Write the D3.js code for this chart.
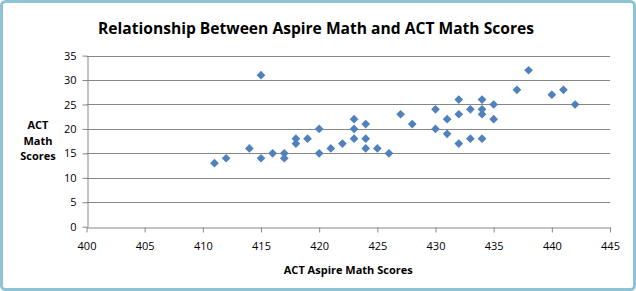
<!DOCTYPE html>
<html>
<head>
<meta charset="utf-8">
<script src="https://d3js.org/d3.v7.min.js"></script>
<style>
body { margin: 0; background: #fff; }
text { font-family: "Open Sans", "DejaVu Sans", sans-serif; fill: #000; }
</style>
</head>
<body>
<div class="chart"></div>
<script>
var WIDTH = 636;
var HEIGHT = 291;

var LEFT = 86.5;
var RIGHT = 610;
var TOP = 55.6;
var BOTTOM = 226.7;

// ACT Aspire math score (x) vs ACT math score (y)
var aspireScores = [411, 412, 414, 415, 415, 416, 417, 417, 418, 418, 419, 420, 420, 421, 422,
    423, 423, 423, 424, 424, 424, 425, 426, 427, 428, 430, 430, 431, 431, 432, 432, 432,
    433, 433, 434, 434, 434, 434, 435, 435, 437, 438, 440, 441, 442];
var actScores = [13, 14, 16, 31, 14, 15, 15, 14, 17, 18, 18, 20, 15, 16, 17,
    22, 20, 18, 21, 18, 16, 16, 15, 23, 21, 24, 20, 22, 19, 26, 23, 17,
    24, 18, 26, 24, 23, 18, 25, 22, 28, 32, 27, 28, 25];

var xTicks = [400, 405, 410, 415, 420, 425, 430, 435, 440, 445];
var yTicks = [0, 5, 10, 15, 20, 25, 30, 35];

var points = aspireScores.map(function(x, i) {
    return {x: x, y: actScores[i]};
});

var svg = d3.select(".chart")
    .append("svg")
    .attr("width", WIDTH)
    .attr("height", HEIGHT);

// outer frame
svg.append("rect")
    .attr("x", 1.5)
    .attr("y", 1.5)
    .attr("width", WIDTH - 3)
    .attr("height", HEIGHT - 3)
    .attr("rx", 4)
    .attr("fill", "#fff")
    .attr("stroke", "#8fc2d5")
    .attr("stroke-width", 3);

var x = d3.scaleLinear().domain([400, 445]).range([LEFT, RIGHT]);
var y = d3.scaleLinear().domain([0, 35]).range([BOTTOM, TOP]);

// gridlines
svg.append("g")
    .selectAll("line")
    .data(yTicks.slice(1))
    .enter().append("line")
    .attr("x1", LEFT)
    .attr("x2", RIGHT)
    .attr("y1", function(d) { return Math.round(y(d)) + 0.5; })
    .attr("y2", function(d) { return Math.round(y(d)) + 0.5; })
    .attr("stroke", "#868686")
    .attr("stroke-width", 1);

var xAxis = svg.append("g")
    .attr("transform", "translate(0," + (Math.round(BOTTOM) + 0.5) + ")")
    .call(d3.axisBottom(x).tickValues(xTicks).tickSize(5).tickPadding(8).tickSizeOuter(0));

var yAxis = svg.append("g")
    .attr("transform", "translate(" + (Math.round(LEFT) + 0.5) + ",0)")
    .call(d3.axisLeft(y).tickValues(yTicks).tickSize(5).tickPadding(6).tickSizeOuter(0));

[xAxis, yAxis].forEach(function(a) {
    a.select(".domain").attr("stroke", "#868686");
    a.selectAll(".tick line").attr("stroke", "#868686");
    a.selectAll(".tick text")
        .style("font-family", "'Open Sans', sans-serif")
        .style("font-size", "11px")
        .attr("fill", "#000");
});
xAxis.selectAll(".tick text").attr("dy", "0.85em");

// diamonds
var diamond = d3.symbol().type(d3.symbolSquare).size(38);
svg.append("g")
    .selectAll("path")
    .data(points)
    .enter().append("path")
    .attr("d", diamond)
    .attr("transform", function(d) {
        return "translate(" + x(d.x) + "," + y(d.y) + ") rotate(45)";
    })
    .attr("fill", "#4f81bd");

// title
svg.append("text")
    .attr("x", 316)
    .attr("y", 34)
    .attr("text-anchor", "middle")
    .style("font-size", "16.5px")
    .style("font-weight", "bold")
    .attr("textLength", 436)
    .attr("lengthAdjust", "spacingAndGlyphs")
    .text("Relationship Between Aspire Math and ACT Math Scores");

// axis titles
svg.append("text")
    .attr("x", (LEFT + RIGHT) / 2)
    .attr("y", 274)
    .attr("text-anchor", "middle")
    .style("font-size", "11px")
    .style("font-weight", "bold")
    .text("ACT Aspire Math Scores");

var yTitle = ["ACT", "Math", "Scores"];
svg.append("g")
    .selectAll("text")
    .data(yTitle)
    .enter().append("text")
    .attr("x", 38)
    .attr("y", function(d, i) { return 129 + i * 15.7; })
    .attr("text-anchor", "middle")
    .style("font-size", "11px")
    .style("font-weight", "bold")
    .text(function(d) { return d; });
</script>
</body>
</html>
